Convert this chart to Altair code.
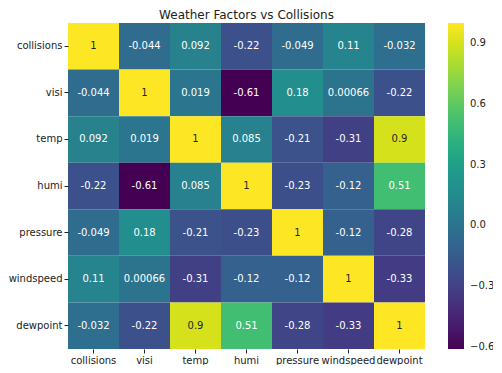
import altair as alt
import pandas as pd

names = ["collisions", "visi", "temp", "humi", "pressure", "windspeed", "dewpoint"]
values = [
    [1, -0.044, 0.092, -0.22, -0.049, 0.11, -0.032],
    [-0.044, 1, 0.019, -0.61, 0.18, 0.00066, -0.22],
    [0.092, 0.019, 1, 0.085, -0.21, -0.31, 0.9],
    [-0.22, -0.61, 0.085, 1, -0.23, -0.12, 0.51],
    [-0.049, 0.18, -0.21, -0.23, 1, -0.12, -0.28],
    [0.11, 0.00066, -0.31, -0.12, -0.12, 1, -0.33],
    [-0.032, -0.22, 0.9, 0.51, -0.28, -0.33, 1],
]
labels = [
    ["1", "-0.044", "0.092", "-0.22", "-0.049", "0.11", "-0.032"],
    ["-0.044", "1", "0.019", "-0.61", "0.18", "0.00066", "-0.22"],
    ["0.092", "0.019", "1", "0.085", "-0.21", "-0.31", "0.9"],
    ["-0.22", "-0.61", "0.085", "1", "-0.23", "-0.12", "0.51"],
    ["-0.049", "0.18", "-0.21", "-0.23", "1", "-0.12", "-0.28"],
    ["0.11", "0.00066", "-0.31", "-0.12", "-0.12", "1", "-0.33"],
    ["-0.032", "-0.22", "0.9", "0.51", "-0.28", "-0.33", "1"],
]
legend_ticks = [-0.6, -0.3, 0.0, 0.3, 0.6, 0.9]

rows = []
for i, r in enumerate(names):
    for j, c in enumerate(names):
        rows.append({"row": r, "col": c, "v": values[i][j], "lab": labels[i][j]})
df = pd.DataFrame(rows)

font = "DejaVu Sans"
base = alt.Chart(df).encode(
    x=alt.X("col:N", sort=names, title=None,
            axis=alt.Axis(labelAngle=0, domain=False, tickSize=4, labelPadding=2,
                          labelFontSize=10, labelFont=font, labelColor="#222", tickColor="#222")),
    y=alt.Y("row:N", sort=names, title=None,
            axis=alt.Axis(domain=False, tickSize=4, labelPadding=2,
                          labelFontSize=10, labelFont=font, labelColor="#222", tickColor="#222")),
)

rect = base.mark_rect().encode(
    color=alt.Color("v:Q",
                    scale=alt.Scale(scheme="viridis", domain=[-0.61, 1]),
                    legend=alt.Legend(title=None, values=legend_ticks, format=".1f",
                                      gradientLength=326, gradientThickness=16,
                                      offset=23, padding=0, labelOffset=6,
                                      labelFontSize=10, labelFont=font, labelColor="#222",
                                      direction="vertical"))
)

text = base.mark_text(fontSize=10, font=font).encode(
    text="lab:N",
    color=alt.condition(alt.datum.v > 0.8, alt.value("#262626"), alt.value("white")),
)

chart = (rect + text).properties(
    width=357, height=326,
    title=alt.TitleParams("Weather Factors vs Collisions", fontSize=12, font=font,
                          fontWeight="normal", color="#222", offset=1),
    autosize=alt.AutoSizeParams(type="none"),
    padding={"left": 60, "top": 15, "right": 68, "bottom": 16},
).configure_view(stroke=None).configure_scale(bandPaddingInner=0)

chart.save("out.html", embed_options={"renderer": "svg", "actions": False})
